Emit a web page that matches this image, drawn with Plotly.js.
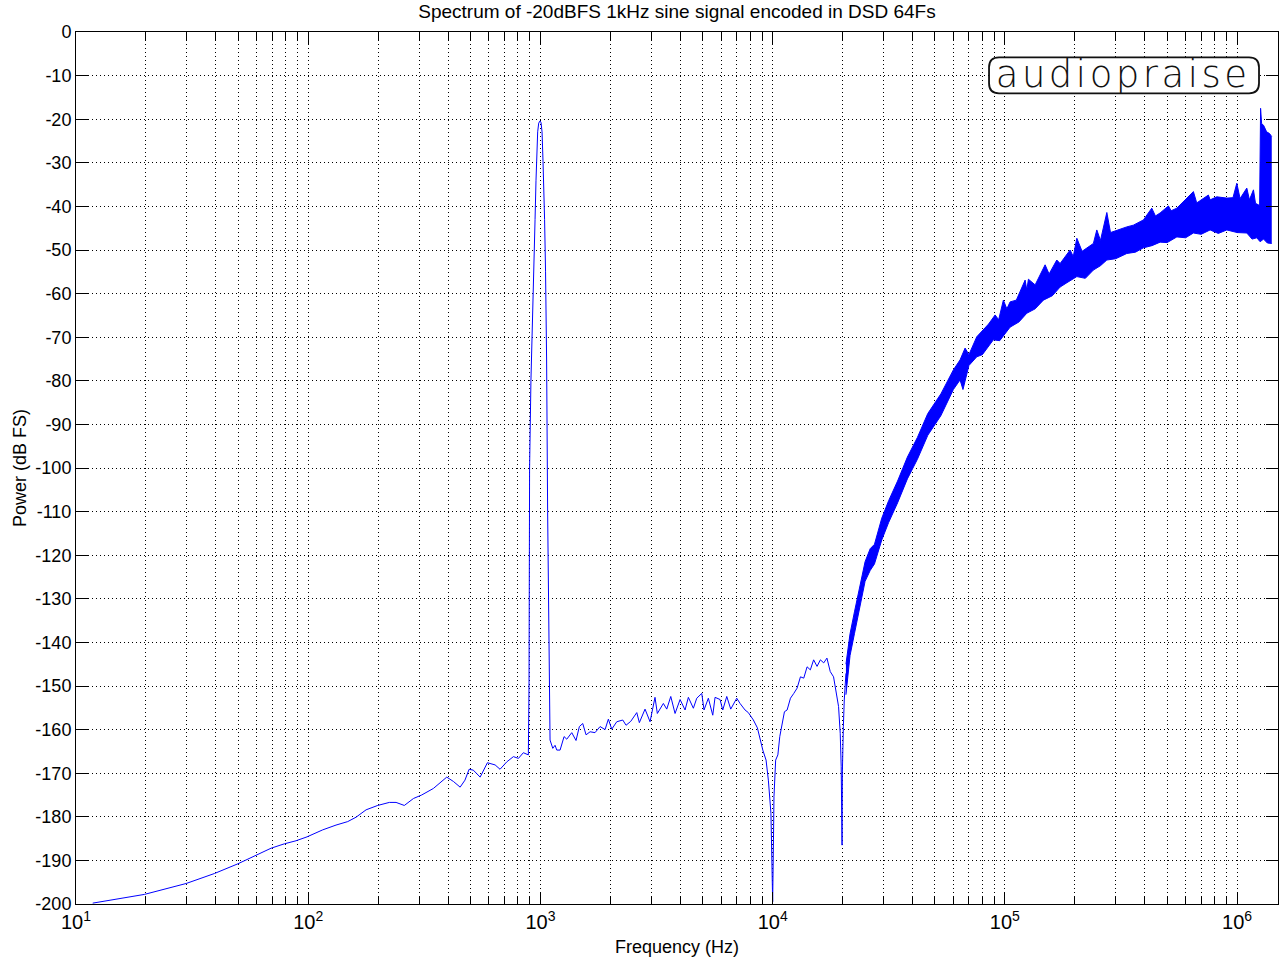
<!DOCTYPE html>
<html>
<head>
<meta charset="utf-8">
<script src="https://cdn.plot.ly/plotly-3.0.1.min.js"></script>
<style>html,body{margin:0;padding:0;background:#fff;}#chart{width:1280px;height:959px;}</style>
</head>
<body>
<div id="chart"></div>
<script>
// ---- data (frequency in Hz, power in dB FS) ----
const lowFreq = [11.8, 19.7, 29.8, 39.5, 49.7, 59.6, 69.2, 78.9, 88.6, 98.8, 115.4, 131.7, 147.9, 160.6, 177.5, 199.1, 223.5, 238.9, 259.3, 283.9, 308, 345.9, 369.6, 395, 422, 451, 473, 493, 514, 550, 591, 638, 670, 716, 765, 804, 844, 887];
const lowDb = [-199.8, -197.8, -195.3, -193.0, -190.8, -188.8, -187.2, -186.2, -185.5, -184.6, -183.0, -181.9, -181.1, -180.1, -178.4, -177.4, -176.7, -176.7, -177.4, -175.8, -175.0, -173.5, -172.3, -170.9, -171.9, -173.2, -171.6, -169.1, -169.3, -170.9, -167.6, -168.1, -169.1, -167.4, -166.2, -166.6, -165.3, -165.8];

const peakFreq = [893, 898, 910, 925, 940, 948, 957, 966, 973, 983, 996, 1006, 1016, 1026, 1037, 1042, 1052, 1063, 1074, 1085, 1092];
const peakDb = [-150, -100, -80, -62, -50, -43, -34, -27, -22.9, -20.9, -20.4, -20.8, -22.9, -29.7, -36.6, -43, -55, -75, -110, -140, -144];

const floorFreq = [1100, 1130, 1156, 1176, 1215, 1264, 1298, 1364, 1423, 1471, 1521, 1572, 1636, 1718, 1806, 1898, 1961, 2028, 2131, 2262, 2337, 2449, 2599, 2667, 2821, 2965, 3114, 3187, 3383, 3499, 3641, 3799, 3993, 4195, 4335, 4555, 4711, 4950, 5064, 5285, 5521, 5648, 5935, 6096, 6343, 6599, 7003, 7236, 7603, 7856, 8258, 8595, 8829, 9069, 9367, 9583];
const floorDb = [-162.4, -164.3, -163.6, -164.7, -164.7, -161.6, -162.2, -160.7, -162.5, -159.3, -158.6, -161.2, -160.5, -160.7, -159.3, -160.0, -157.6, -159.9, -158.2, -157.8, -159.0, -158.1, -156.1, -158.4, -155.3, -158.2, -152.6, -156.3, -154.0, -155.3, -152.4, -156.3, -153.1, -155.5, -152.6, -155.1, -152.8, -151.7, -155.5, -152.8, -156.7, -152.6, -153.1, -155.5, -152.4, -155.3, -152.8, -154.0, -155.5, -156.1, -157.8, -159.6, -162.4, -164.7, -167.0, -171.6];

const notchFreq = [9830, 9890, 10000, 10080, 10130, 10300, 10530, 10730, 10990, 11240, 11540, 11930, 12330, 12740, 13170, 13610, 14070, 14530, 15010, 15530, 16050, 16590, 17130, 17700, 18290, 18790, 19220, 19540, 19730, 19900, 19960, 20160, 20340, 20680];
const notchDb = [-179.2, -185.3, -199.5, -185.3, -175.4, -167.0, -165.8, -161.6, -158.6, -155.9, -155.5, -152.8, -151.7, -150.5, -147.9, -148.2, -145.6, -146.3, -144.0, -145.5, -144.0, -144.7, -143.6, -146.7, -147.9, -151.7, -154.7, -160.9, -168.5, -186.5, -169.9, -159.3, -153.2, -147.1];

// noise-shaped band above 20 kHz: lower and upper edges of the dense trace
const bandLowFreq = [20680, 21540, 22500, 23670, 25000, 26300, 27440, 29500, 31580, 34500, 38030, 42000, 46560, 53000, 60000, 64120, 66000, 70000, 75680, 80000, 89210, 95000, 105300, 115000, 124300, 135000, 146500, 160000, 172900, 185000, 204100, 222000, 240500, 258000, 274800, 300000, 335000, 365000, 395000, 430000, 466200, 500000, 550200, 600000, 648300, 700000, 765200, 830000, 903000, 1000000, 1101000, 1160000, 1216000, 1256000, 1300000, 1350000, 1410000];
const bandLowDb = [-152, -143, -138, -132.5, -126, -123.5, -122, -116.5, -112.5, -108, -102.5, -98, -92.5, -88, -82, -79.8, -82, -76.5, -74.5, -74, -70.6, -70.8, -67.7, -66.5, -64.5, -63.5, -61.5, -60.5, -58.5, -57.5, -56.1, -56.5, -54.6, -53.6, -52.3, -52, -50.8, -50.5, -49.5, -49, -48.2, -48.3, -47.0, -47.2, -46.1, -46.4, -45.4, -46.2, -45.4, -46, -46.1, -47.5, -47.2, -48.1, -47.5, -48.4, -48.5];

const bandHighFreq = [20680, 21540, 22500, 23670, 25000, 26300, 27440, 29500, 31580, 34500, 38030, 42000, 46560, 53000, 60000, 64120, 67390, 70000, 75680, 85000, 90760, 94000, 98530, 102000, 105300, 112000, 122200, 124300, 126300, 135000, 149000, 155000, 167300, 172900, 190900, 197000, 204100, 215000, 240500, 248800, 258000, 274800, 285000, 335000, 357600, 395000, 429100, 445000, 466200, 506000, 520000, 550200, 648300, 670000, 752400, 765200, 817800, 903000, 960000, 997000, 1030000, 1101000, 1130000, 1176000, 1200000, 1250000, 1262000, 1275000, 1300000, 1340000, 1380000, 1410000];
const bandHighDb = [-145, -138, -133, -127.5, -121.5, -118.5, -117.5, -111.5, -107.5, -103, -97.5, -93, -87.5, -83, -77.5, -75.2, -72.5, -74, -69.9, -67, -64.9, -66, -61.5, -63.5, -61.9, -61.5, -56.9, -59.2, -56.7, -58, -53.4, -55.5, -52.3, -53.1, -50, -51.5, -47.3, -50.3, -48.5, -45.4, -47.8, -41.4, -46, -44.7, -44.3, -43.1, -40.4, -42.2, -41.5, -39.9, -41, -40.4, -36.6, -39.2, -37.4, -38.5, -37.8, -38.1, -38.0, -34.7, -38.2, -35.8, -38.5, -36.2, -39.3, -39.8, -17.5, -21, -21.4, -22.9, -23.3, -24];

// axis ticks
const xTickVals = [10, 100, 1000, 10000, 100000, 1000000];
const xTickText = ['10<sup>1</sup>', '10<sup>2</sup>', '10<sup>3</sup>', '10<sup>4</sup>', '10<sup>5</sup>', '10<sup>6</sup>'];
const yTickVals = [0, -10, -20, -30, -40, -50, -60, -70, -80, -90, -100, -110, -120, -130, -140, -150, -160, -170, -180, -190, -200];
const yTickText = ['0', '-10', '-20', '-30', '-40', '-50', '-60', '-70', '-80', '-90', '-100', '-110', '-120', '-130', '-140', '-150', '-160', '-170', '-180', '-190', '-200'];

// minor grid positions (2..9 of each decade)
const xMinorVals = [];
for (let d = 10; d <= 1e6; d *= 10) for (let k = 2; k <= 9; k++) xMinorVals.push(d * k);

const mainFreq = lowFreq.concat(peakFreq, floorFreq, notchFreq);
const mainDb = lowDb.concat(peakDb, floorDb, notchDb);

const BLUE = '#0000ff';
const traces = [
  {x: mainFreq, y: mainDb, type: 'scatter', mode: 'lines', line: {color: BLUE, width: 1}, hoverinfo: 'skip'},
  {x: bandLowFreq, y: bandLowDb, type: 'scatter', mode: 'lines', line: {color: BLUE, width: 1}, hoverinfo: 'skip'},
  {x: bandHighFreq, y: bandHighDb, type: 'scatter', mode: 'lines', line: {color: BLUE, width: 1}, fill: 'tonexty', fillcolor: BLUE, hoverinfo: 'skip'}
];

const F = 'Liberation Sans, Arial, Helvetica, sans-serif';
const GRID = '1px,3px';

// logo box (rounded rectangle in paper coordinates)
const lx0 = 0.7596, lx1 = 0.9842, ly0 = 0.9296, ly1 = 0.971, rx = 0.0083, ry = 0.0115;
const logoPath = `M ${lx0+rx},${ly1} L ${lx1-rx},${ly1} Q ${lx1},${ly1} ${lx1},${ly1-ry} L ${lx1},${ly0+ry} Q ${lx1},${ly0} ${lx1-rx},${ly0} L ${lx0+rx},${ly0} Q ${lx0},${ly0} ${lx0},${ly0+ry} L ${lx0},${ly1-ry} Q ${lx0},${ly1} ${lx0+rx},${ly1} Z`;

const layout = {
  width: 1280, height: 959,
  margin: {l: 76, r: 2, t: 32, b: 55},
  paper_bgcolor: '#fff', plot_bgcolor: '#fff',
  showlegend: false,
  font: {family: F, color: '#000', size: 18},
  title: {text: 'Spectrum of -20dBFS 1kHz sine signal encoded in DSD 64Fs', font: {family: F, size: 19, color: '#000'},
          x: 0.5, xref: 'paper', xanchor: 'center', y: 0.9885, yref: 'container', yanchor: 'middle'},
  xaxis: {
    type: 'log', range: [1, Math.log10(1.5e6)],
    tickmode: 'array', tickvals: xTickVals, ticktext: xTickText,
    ticks: 'inside', ticklen: 12, tickwidth: 1, tickcolor: '#000',
    tickfont: {family: F, size: 20, color: '#000'},
    showgrid: true, gridcolor: '#000', gridwidth: 1, griddash: GRID,
    minor: {tickmode: 'array', tickvals: xMinorVals, ticks: 'inside', ticklen: 8, tickcolor: '#000', showgrid: true, gridcolor: '#000', gridwidth: 1, griddash: GRID},
    showline: true, linecolor: '#000', linewidth: 1, mirror: 'allticks', zeroline: false,
    title: {text: 'Frequency (Hz)', font: {family: F, size: 18, color: '#000'}, standoff: 8}
  },
  yaxis: {
    range: [-200, 0],
    tickmode: 'array', tickvals: yTickVals, ticktext: yTickText,
    ticks: 'inside', ticklen: 12, tickwidth: 1, tickcolor: '#000',
    tickfont: {family: F, size: 18, color: '#000'},
    showgrid: true, gridcolor: '#000', gridwidth: 1, griddash: GRID,
    showline: true, linecolor: '#000', linewidth: 1, mirror: 'allticks', zeroline: false,
    title: {text: 'Power (dB FS)', font: {family: F, size: 18, color: '#000'}, standoff: 4}
  },
  shapes: [
    {type: 'path', path: logoPath, xref: 'paper', yref: 'paper', fillcolor: '#fff', line: {color: '#111', width: 1.8}, layer: 'above'}
  ],
  annotations: [
    {text: 'audiopraise', xref: 'paper', yref: 'paper', x: 0.8712, y: 0.9515, xanchor: 'center', yanchor: 'middle', showarrow: false,
     font: {family: 'DejaVu Sans ExtraLight, DejaVu Sans, sans-serif', size: 37, color: '#111', weight: 200}}
  ]
};

const el = document.getElementById('chart');
Plotly.newPlot(el, traces, layout, {displayModeBar: false, staticPlot: true}).then(() => {
  el.querySelectorAll('.annotation-text').forEach(t => t.setAttribute('letter-spacing', '3.5'));
});
</script>
</body>
</html>
